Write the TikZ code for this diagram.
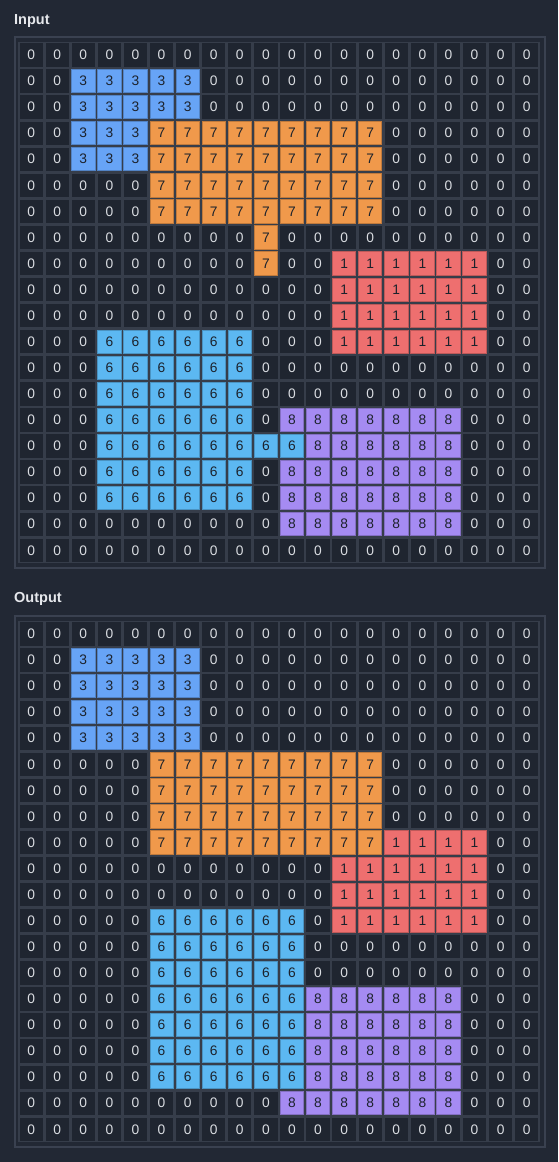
\documentclass[tikz,border=0pt]{standalone}
\usepackage{fontspec}
\setmainfont{Liberation Sans}
\definecolor{bgc}{HTML}{222834}
\definecolor{framec}{HTML}{3A4150}
\definecolor{gapc}{HTML}{363D4A}
\definecolor{cellc}{HTML}{1F2530}
\definecolor{zerotxt}{HTML}{DADDE2}
\definecolor{darktxt}{HTML}{1C222C}
\definecolor{labelc}{HTML}{E6E8EC}
\definecolor{col1}{HTML}{EE6F6F}
\definecolor{col3}{HTML}{67A4F6}
\definecolor{col6}{HTML}{5CB8F2}
\definecolor{col7}{HTML}{F0994B}
\definecolor{col8}{HTML}{A58BF2}
\tikzset{
  cellbox/.style={minimum size=23.3pt, inner sep=0pt, font=\fontsize{13.8}{13.8}\selectfont},
  c0/.style={fill=cellc, text=zerotxt},
  c1/.style={fill=col1, draw=col1!80!black, line width=0.8pt, text=darktxt},
  c3/.style={fill=col3, draw=col3!80!black, line width=0.8pt, text=darktxt},
  c6/.style={fill=col6, draw=col6!80!black, line width=0.8pt, text=darktxt},
  c7/.style={fill=col7, draw=col7!80!black, line width=0.8pt, text=darktxt},
  c8/.style={fill=col8, draw=col8!80!black, line width=0.8pt, text=darktxt},
  frame/.style={draw=framec, line width=2pt},
  gridbg/.style={fill=gapc},
  title/.style={anchor=base west, inner sep=0pt, text=labelc, font=\bfseries\fontsize{14.5}{14.5}\selectfont}
}
\begin{document}
\begin{tikzpicture}[x=1pt,y=-1pt]
\fill[bgc] (0,0) rectangle (558,1162);
\useasboundingbox (0,0) rectangle (558,1162);
\node[title] (tin) at (14,24) {Input};
\node[title] (tout) at (14,602.5) {Output};
% frames
\draw[frame] (15,37) rectangle (544.7,568.3);
\fill[gridbg] (18.2,41.9) rectangle (539.6,563.1);
\draw[frame] (15,616) rectangle (544.7,1147.3);
\fill[gridbg] (18.2,620.9) rectangle (539.6,1142.1);
% input grid
\foreach \row [count=\r from 0] in {
{0,0,0,0,0,0,0,0,0,0,0,0,0,0,0,0,0,0,0,0},
{0,0,3,3,3,3,3,0,0,0,0,0,0,0,0,0,0,0,0,0},
{0,0,3,3,3,3,3,0,0,0,0,0,0,0,0,0,0,0,0,0},
{0,0,3,3,3,7,7,7,7,7,7,7,7,7,0,0,0,0,0,0},
{0,0,3,3,3,7,7,7,7,7,7,7,7,7,0,0,0,0,0,0},
{0,0,0,0,0,7,7,7,7,7,7,7,7,7,0,0,0,0,0,0},
{0,0,0,0,0,7,7,7,7,7,7,7,7,7,0,0,0,0,0,0},
{0,0,0,0,0,0,0,0,0,7,0,0,0,0,0,0,0,0,0,0},
{0,0,0,0,0,0,0,0,0,7,0,0,1,1,1,1,1,1,0,0},
{0,0,0,0,0,0,0,0,0,0,0,0,1,1,1,1,1,1,0,0},
{0,0,0,0,0,0,0,0,0,0,0,0,1,1,1,1,1,1,0,0},
{0,0,0,6,6,6,6,6,6,0,0,0,1,1,1,1,1,1,0,0},
{0,0,0,6,6,6,6,6,6,0,0,0,0,0,0,0,0,0,0,0},
{0,0,0,6,6,6,6,6,6,0,0,0,0,0,0,0,0,0,0,0},
{0,0,0,6,6,6,6,6,6,0,8,8,8,8,8,8,8,0,0,0},
{0,0,0,6,6,6,6,6,6,6,6,8,8,8,8,8,8,0,0,0},
{0,0,0,6,6,6,6,6,6,0,8,8,8,8,8,8,8,0,0,0},
{0,0,0,6,6,6,6,6,6,0,8,8,8,8,8,8,8,0,0,0},
{0,0,0,0,0,0,0,0,0,0,8,8,8,8,8,8,8,0,0,0},
{0,0,0,0,0,0,0,0,0,0,0,0,0,0,0,0,0,0,0,0}} {
  \foreach \v [count=\c from 0] in \row {
    \node[cellbox, c\v] (i-\r-\c) at ({31.15+26.08*\c},{54.95+26.07*\r}) {\v};
  }
}
% output grid
\foreach \row [count=\r from 0] in {
{0,0,0,0,0,0,0,0,0,0,0,0,0,0,0,0,0,0,0,0},
{0,0,3,3,3,3,3,0,0,0,0,0,0,0,0,0,0,0,0,0},
{0,0,3,3,3,3,3,0,0,0,0,0,0,0,0,0,0,0,0,0},
{0,0,3,3,3,3,3,0,0,0,0,0,0,0,0,0,0,0,0,0},
{0,0,3,3,3,3,3,0,0,0,0,0,0,0,0,0,0,0,0,0},
{0,0,0,0,0,7,7,7,7,7,7,7,7,7,0,0,0,0,0,0},
{0,0,0,0,0,7,7,7,7,7,7,7,7,7,0,0,0,0,0,0},
{0,0,0,0,0,7,7,7,7,7,7,7,7,7,0,0,0,0,0,0},
{0,0,0,0,0,7,7,7,7,7,7,7,7,7,1,1,1,1,0,0},
{0,0,0,0,0,0,0,0,0,0,0,0,1,1,1,1,1,1,0,0},
{0,0,0,0,0,0,0,0,0,0,0,0,1,1,1,1,1,1,0,0},
{0,0,0,0,0,6,6,6,6,6,6,0,1,1,1,1,1,1,0,0},
{0,0,0,0,0,6,6,6,6,6,6,0,0,0,0,0,0,0,0,0},
{0,0,0,0,0,6,6,6,6,6,6,0,0,0,0,0,0,0,0,0},
{0,0,0,0,0,6,6,6,6,6,6,8,8,8,8,8,8,0,0,0},
{0,0,0,0,0,6,6,6,6,6,6,8,8,8,8,8,8,0,0,0},
{0,0,0,0,0,6,6,6,6,6,6,8,8,8,8,8,8,0,0,0},
{0,0,0,0,0,6,6,6,6,6,6,8,8,8,8,8,8,0,0,0},
{0,0,0,0,0,0,0,0,0,0,8,8,8,8,8,8,8,0,0,0},
{0,0,0,0,0,0,0,0,0,0,0,0,0,0,0,0,0,0,0,0}} {
  \foreach \v [count=\c from 0] in \row {
    \node[cellbox, c\v] (o-\r-\c) at ({31.15+26.08*\c},{633.95+26.07*\r}) {\v};
  }
}
\end{tikzpicture}
\end{document}
